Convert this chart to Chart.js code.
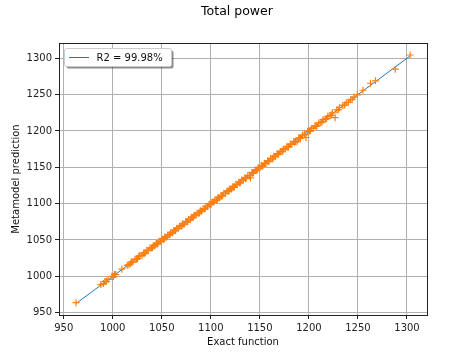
<!DOCTYPE html>
<html><head><meta charset="utf-8">
<script src="https://cdn.jsdelivr.net/npm/chart.js@4/dist/chart.umd.min.js"></script>
<style>html,body{margin:0;padding:0;background:#fff}#wrap{width:474px;height:355px}</style>
</head><body><div id="wrap"><canvas id="c" width="474" height="355"></canvas></div>
<script>
const chartTitle = 'Total power';
const xAxisTitle = 'Exact function';
const yAxisTitle = 'Metamodel prediction';
const fitLabel = 'R2 = 99.98%';

const exactValues = [
 962.6, 987.9, 990.4, 992.1, 993.6, 995.3, 999.2, 1000.7, 1001.8, 1003.1,
 1009.3, 1014.8, 1016.5, 1018.9, 1020.2, 1022.7, 1024.1, 1026.6, 1027.4, 1029.8,
 1031.5, 1033.2, 1034.9, 1036.3, 1038.0, 1039.6, 1041.4, 1042.7, 1044.5, 1046.1,
 1047.3, 1048.8, 1050.4, 1051.6, 1053.2, 1054.5, 1056.1, 1057.8, 1059.0, 1060.7,
 1062.3, 1063.5, 1065.2, 1066.8, 1068.1, 1069.9, 1071.3, 1072.6, 1074.4, 1075.7,
 1077.3, 1078.9, 1080.2, 1081.6, 1083.1, 1084.8, 1086.0, 1087.7, 1089.3, 1090.5,
 1092.2, 1093.8, 1095.1, 1096.7, 1098.4, 1099.6, 1101.3, 1102.9, 1104.2, 1105.8,
 1107.5, 1108.7, 1110.4, 1112.0, 1113.3, 1114.9, 1116.6, 1117.8, 1119.5, 1121.1,
 1122.4, 1124.0, 1125.7, 1126.9, 1128.6, 1130.2, 1131.5, 1133.1, 1134.8, 1136.0,
 1137.7, 1139.3, 1140.4, 1141.9, 1143.5, 1145.2, 1146.6, 1148.3, 1149.7, 1151.4,
 1153.0, 1154.6, 1156.1, 1157.9, 1159.4, 1161.0, 1162.7, 1164.3, 1165.8, 1167.6,
 1169.1, 1170.8, 1172.5, 1174.0, 1175.9, 1177.4, 1179.2, 1181.0, 1182.7, 1184.5,
 1186.3, 1188.0, 1189.6, 1191.5, 1193.4, 1195.2, 1197.0, 1198.7, 1200.6, 1202.5,
 1204.3, 1206.2, 1208.1, 1210.0, 1212.2, 1214.5, 1216.8, 1219.3, 1221.6, 1224.0,
 1226.7, 1228.5, 1231.2, 1234.6, 1238.1, 1242.5, 1246.0, 1249.3, 1255.1, 1262.8,
 1267.9, 1288.0, 1303.2,
 1018.1, 1025.3, 1032.0, 1040.5, 1045.2, 1052.8, 1058.4, 1064.1, 1070.6, 1076.5,
 1082.3, 1088.5, 1094.3, 1100.4, 1106.6, 1111.2, 1118.7, 1123.3, 1129.4, 1135.2,
 1142.6, 1147.5, 1152.2, 1158.6, 1163.5, 1168.4, 1173.3, 1178.6, 1185.4, 1190.7,
 1196.1, 1201.5, 1207.3, 1213.4, 1218.0, 1222.8, 1229.9, 1236.4, 1240.2, 1244.1
];

const predictedValues = [
 963.8, 988.6, 990.0, 992.9, 993.1, 995.8, 1000.1, 999.8, 1002.6, 1002.4,
 1009.9, 1015.2, 1016.1, 1019.7, 1019.6, 1023.4, 1023.5, 1027.5, 1028.3, 1029.1,
 1032.2, 1032.6, 1035.8, 1035.7, 1038.9, 1039.0, 1042.1, 1042.0, 1045.3, 1045.4,
 1048.2, 1048.1, 1051.3, 1050.8, 1054.0, 1053.9, 1057.0, 1057.1, 1059.9, 1060.0,
 1063.1, 1062.8, 1066.1, 1066.0, 1069.0, 1069.2, 1072.2, 1071.8, 1075.3, 1075.0,
 1078.2, 1078.1, 1081.1, 1080.9, 1084.1, 1084.0, 1087.0, 1086.9, 1090.2, 1089.7,
 1093.1, 1093.0, 1096.1, 1095.9, 1099.3, 1098.9, 1102.2, 1102.1, 1105.2, 1105.0,
 1108.5, 1107.9, 1111.3, 1111.2, 1114.3, 1114.1, 1117.5, 1117.0, 1120.4, 1120.3,
 1123.4, 1123.2, 1126.6, 1126.1, 1129.6, 1129.4, 1132.5, 1132.3, 1135.7, 1135.2,
 1138.7, 1138.4, 1135.4, 1142.9, 1142.7, 1146.2, 1145.8, 1149.3, 1148.9, 1152.4,
 1152.2, 1155.6, 1155.3, 1158.9, 1158.6, 1162.0, 1161.9, 1165.3, 1165.0, 1168.6,
 1168.3, 1171.8, 1171.7, 1175.0, 1175.1, 1178.4, 1178.4, 1182.0, 1181.9, 1185.5,
 1185.5, 1185.0, 1190.6, 1190.7, 1194.4, 1194.4, 1191.0, 1199.7, 1199.8, 1203.5,
 1203.5, 1207.2, 1207.3, 1211.0, 1211.4, 1215.5, 1216.0, 1220.2, 1220.9, 1224.9,
 1218.3, 1229.2, 1231.9, 1235.1, 1238.8, 1242.9, 1246.6, 1249.7, 1256.0, 1265.6,
 1268.9, 1285.0, 1304.5,
 1017.2, 1024.3, 1031.0, 1039.6, 1044.3, 1051.8, 1057.5, 1063.2, 1069.7, 1075.6,
 1081.4, 1087.5, 1093.3, 1099.5, 1105.6, 1110.2, 1117.7, 1122.4, 1128.4, 1134.3,
 1141.7, 1146.5, 1151.3, 1157.6, 1162.6, 1167.5, 1172.4, 1177.7, 1184.5, 1189.7,
 1195.2, 1200.6, 1206.4, 1212.5, 1217.2, 1221.9, 1229.0, 1235.6, 1239.5, 1243.4
];

const diagonalEnds = [962.6, 1303.2];
const xTicks = [950, 1000, 1050, 1100, 1150, 1200, 1250, 1300];
const yTicks = [950, 1000, 1050, 1100, 1150, 1200, 1250, 1300];

const FONT = 'DejaVu Sans';

const frameAndLegend = {
  id: 'frameAndLegend',
  afterDraw(chart) {
    const ctx = chart.ctx;
    const a = chart.chartArea;
    ctx.save();
    // title, centred on the whole figure
    ctx.fillStyle = '#000';
    ctx.font = '12.5px "' + FONT + '"';
    ctx.textAlign = 'center';
    ctx.textBaseline = 'middle';
    ctx.fillText(chartTitle, chart.width / 2, 12);
    // frame
    ctx.strokeStyle = '#222';
    ctx.lineWidth = 1;
    ctx.strokeRect(Math.round(a.left) + 0.5, Math.round(a.top) + 0.5,
                   Math.round(a.right) - Math.round(a.left), Math.round(a.bottom) - Math.round(a.top));
    // legend
    const lx = a.left + 5.5, ly = a.top + 5.5, lw = 107, lh = 18;
    const r = 2;
    function rr(x, y, w, h) {
      ctx.beginPath();
      ctx.moveTo(x + r, y);
      ctx.lineTo(x + w - r, y); ctx.arcTo(x + w, y, x + w, y + r, r);
      ctx.lineTo(x + w, y + h - r); ctx.arcTo(x + w, y + h, x + w - r, y + h, r);
      ctx.lineTo(x + r, y + h); ctx.arcTo(x, y + h, x, y + h - r, r);
      ctx.lineTo(x, y + r); ctx.arcTo(x, y, x + r, y, r);
      ctx.closePath();
    }
    rr(lx + 2, ly + 2, lw, lh);
    ctx.fillStyle = 'rgba(0,0,0,0.45)';
    ctx.fill();
    rr(lx, ly, lw, lh);
    ctx.fillStyle = '#fff';
    ctx.fill();
    ctx.strokeStyle = '#cccccc';
    ctx.stroke();
    const ds = chart.data.datasets[1];
    ctx.strokeStyle = ds.borderColor;
    ctx.lineWidth = 1;
    ctx.beginPath();
    ctx.moveTo(lx + 4.5, ly + lh / 2);
    ctx.lineTo(lx + 24.5, ly + lh / 2);
    ctx.stroke();
    ctx.fillStyle = '#111';
    ctx.font = '10px "' + FONT + '"';
    ctx.textBaseline = 'middle';
    ctx.textAlign = 'left';
    ctx.fillText(ds.label, lx + 32, ly + lh / 2 + 0.5);
    ctx.restore();
  }
};

const points = exactValues.map((v, i) => ({ x: v, y: predictedValues[i] }));
const diag = diagonalEnds.map(v => ({ x: v, y: v }));
const plainTick = v => String(v);

new Chart(document.getElementById('c'), {
  type: 'scatter',
  data: {
    datasets: [
      {
        label: 'points',
        data: points,
        pointStyle: 'cross',
        pointRadius: 3.5,
        pointBorderWidth: 1.2,
        borderColor: '#ff7f0e',
        backgroundColor: '#ff7f0e',
        order: 0
      },
      {
        label: fitLabel,
        data: diag,
        showLine: true,
        pointRadius: 0,
        borderColor: '#1f77b4',
        borderWidth: 1,
        order: 1
      }
    ]
  },
  options: {
    responsive: false,
    animation: false,
    devicePixelRatio: 1,
    layout: { padding: { left: 0, right: 47, top: 43, bottom: 0 } },
    plugins: {
      legend: { display: false },
      tooltip: { enabled: false },
      title: { display: false }
    },
    scales: {
      x: {
        type: 'linear',
        min: 945.2,
        max: 1320.4,
        afterBuildTicks: s => { s.ticks = xTicks.map(v => ({ value: v })); },
        afterFit: s => { s.height = 40; },
        border: { display: false },
        grid: { color: '#b0b0b0', lineWidth: 1, tickLength: 4, tickColor: '#222', tickWidth: 1 },
        ticks: { color: '#222', font: { family: FONT, size: 10 }, padding: 3, maxRotation: 0, autoSkip: false, callback: plainTick },
        title: { display: true, text: xAxisTitle, color: '#111', font: { family: FONT, size: 10 }, padding: { top: 0, bottom: 7 } }
      },
      y: {
        type: 'linear',
        min: 946.8,
        max: 1321,
        afterBuildTicks: s => { s.ticks = yTicks.map(v => ({ value: v })); },
        afterFit: s => { s.width = 59; },
        border: { display: false },
        grid: { color: '#b0b0b0', lineWidth: 1, tickLength: 4, tickColor: '#222', tickWidth: 1 },
        ticks: { color: '#222', font: { family: FONT, size: 10 }, padding: 3, autoSkip: false, callback: plainTick },
        title: { display: true, text: yAxisTitle, color: '#111', font: { family: FONT, size: 10 }, padding: { top: 10, bottom: 0 } }
      }
    }
  },
  plugins: [frameAndLegend]
});
</script>
</body></html>
